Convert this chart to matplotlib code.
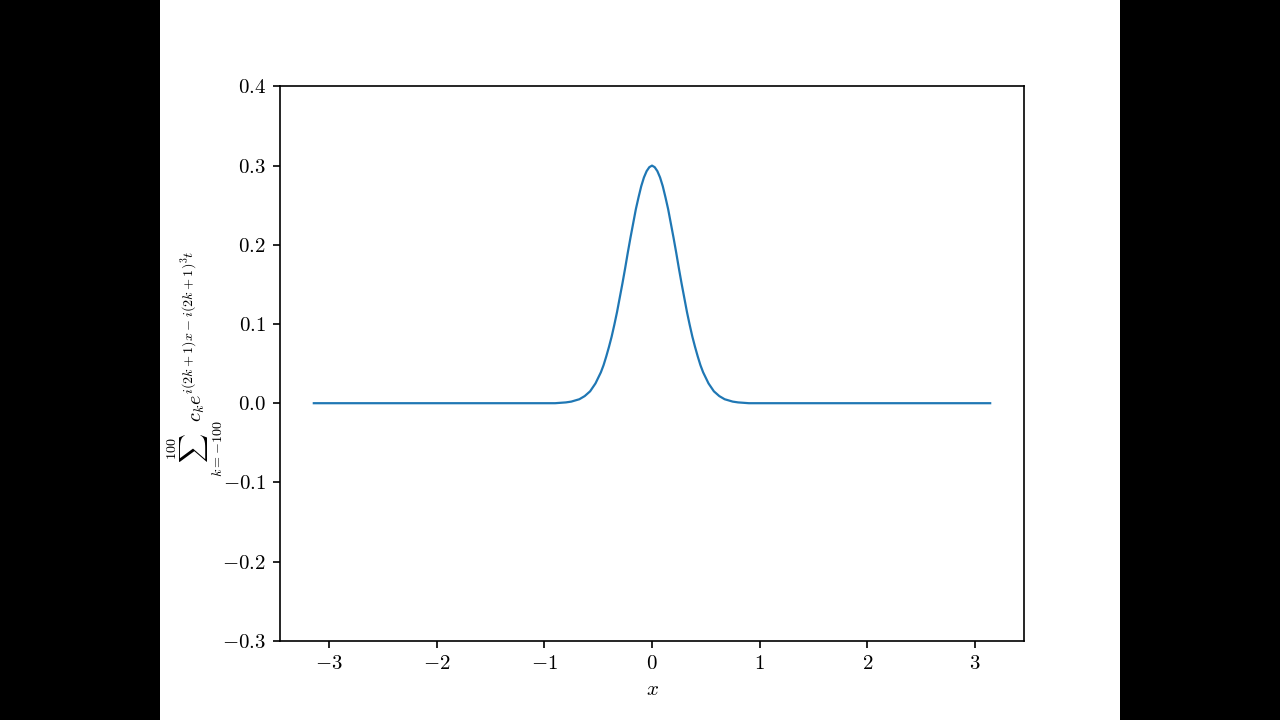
import matplotlib
matplotlib.use('Agg')
import matplotlib.pyplot as plt
from matplotlib.patches import Rectangle

plt.rcParams['mathtext.fontset'] = 'cm'
plt.rcParams['font.family'] = 'serif'
plt.rcParams['font.serif'] = ['cmr10']
plt.rcParams['axes.unicode_minus'] = False

# values
x_vals = [-3.1416, -1.0, -0.9, -0.8, -0.75, -0.7, -0.675, -0.65, -0.625, -0.6, -0.575,
          -0.55, -0.525, -0.5, -0.475, -0.45, -0.425, -0.4, -0.375, -0.35, -0.325,
          -0.3, -0.275, -0.25, -0.225, -0.2, -0.175, -0.15, -0.125, -0.1, -0.075,
          -0.05, -0.025, 0.0,
          0.025, 0.05, 0.075, 0.1, 0.125, 0.15, 0.175, 0.2, 0.225, 0.25,
          0.275, 0.3, 0.325, 0.35, 0.375, 0.4, 0.425, 0.45, 0.475, 0.5,
          0.525, 0.55, 0.575, 0.6, 0.625, 0.65, 0.675, 0.7, 0.75, 0.8, 0.9, 1.0, 3.1416]
y_vals = [0.0, 0.0, 0.0, 0.001, 0.002, 0.004, 0.005, 0.007, 0.009, 0.012, 0.015,
          0.020, 0.025, 0.032, 0.039, 0.048, 0.059, 0.071, 0.084, 0.099, 0.115,
          0.133, 0.151, 0.170, 0.190, 0.209, 0.227, 0.245, 0.260, 0.274, 0.285,
          0.293, 0.298, 0.300,
          0.298, 0.293, 0.285, 0.274, 0.260, 0.245, 0.227, 0.209, 0.190, 0.170,
          0.151, 0.133, 0.115, 0.099, 0.084, 0.071, 0.059, 0.048, 0.039, 0.032,
          0.025, 0.020, 0.015, 0.012, 0.009, 0.007, 0.005, 0.004, 0.002, 0.001, 0.0, 0.0, 0.0]

xticks = [-3, -2, -1, 0, 1, 2, 3]
yticks = [-0.3, -0.2, -0.1, 0.0, 0.1, 0.2, 0.3, 0.4]

fig = plt.figure(figsize=(12.8, 7.2), dpi=100, facecolor='black')
fig.patches.append(Rectangle((160 / 1280, 0), 960 / 1280, 1, transform=fig.transFigure,
                             facecolor='white', edgecolor='none', zorder=-10))

ax = fig.add_axes([280 / 1280, 79.2 / 720, 744 / 1280, 554.4 / 720])
ax.plot(x_vals, y_vals, color='#1f77b4', lw=1.6)

ax.set_xlim(-3.4558, 3.4558)
ax.set_ylim(-0.3, 0.4)
ax.set_xticks(xticks)
ax.set_xticklabels(['$%d$' % t if t >= 0 else '$-%d$' % -t for t in xticks])
ax.set_yticks(yticks)
ax.set_yticklabels(['$%.1f$' % t if t >= 0 else '$-%.1f$' % -t for t in yticks])
ax.tick_params(labelsize=15, length=5.25, width=1.2, pad=5)
for s in ax.spines.values():
    s.set_linewidth(1.2)

ax.set_xlabel('$x$', fontsize=15, labelpad=6)
ax.set_ylabel(r'$\sum_{k=-100}^{100} c_k e^{i(2k+1)x-i(2k+1)^3 t}$', fontsize=14.5, labelpad=-2)

fig.savefig('out.png', dpi=100, facecolor='black')
